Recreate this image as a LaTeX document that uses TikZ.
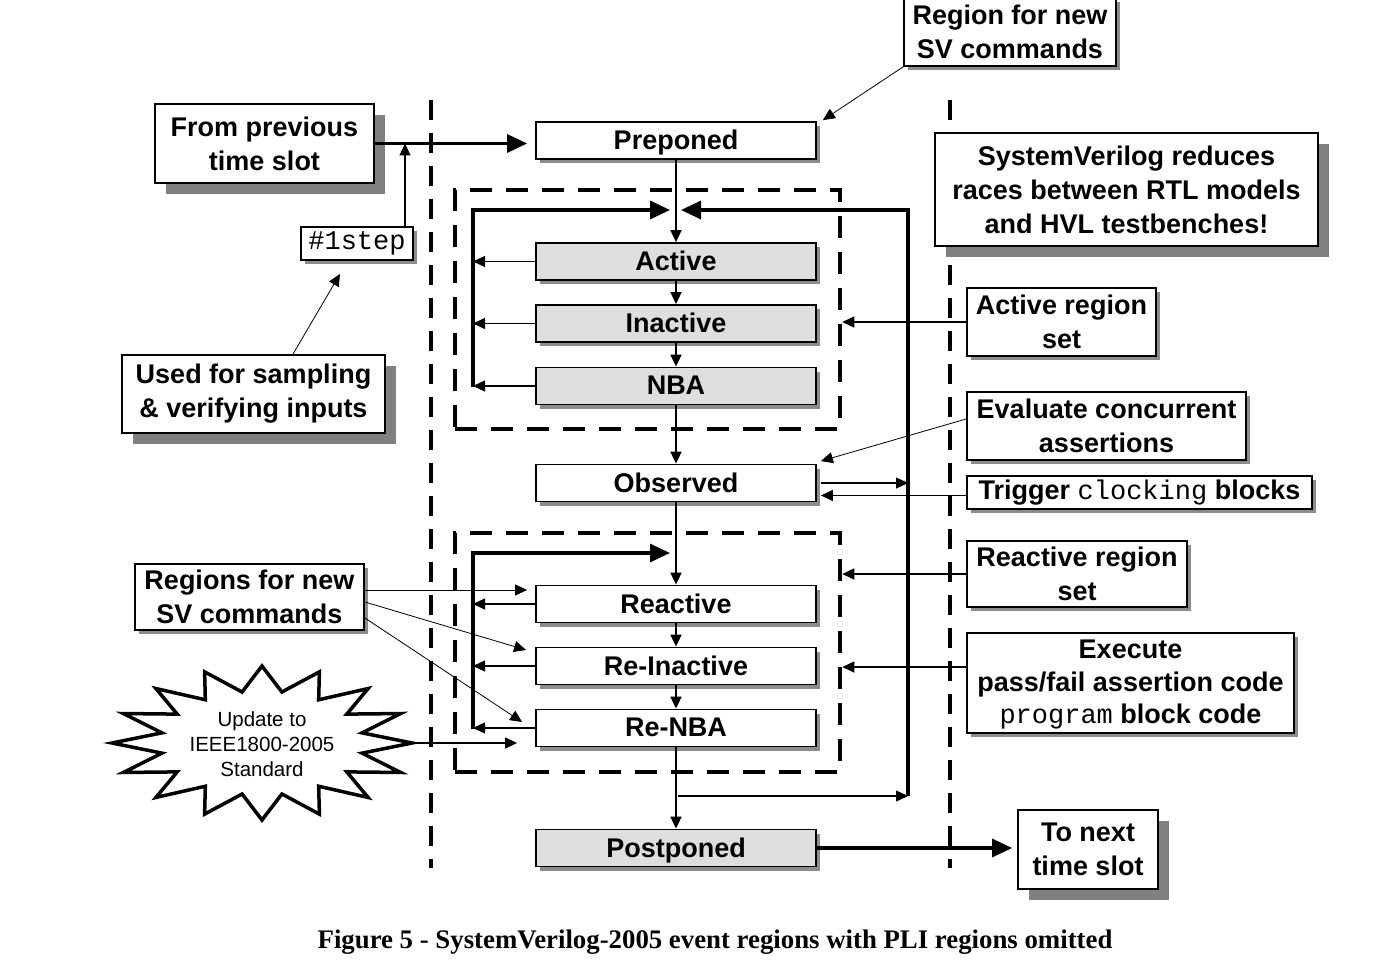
\documentclass[tikz,border=0pt]{standalone}
\usepackage{fontspec}
\setmainfont{Liberation Sans}
\setmonofont{Liberation Mono}
\newfontfamily\capfont{Liberation Serif}
\usetikzlibrary{arrows.meta,shadows}
\begin{document}
\begin{tikzpicture}[x=1pt,y=-1pt,
  stage/.style={draw, line width=1.8pt, fill=white, minimum width=280pt, minimum height=37pt, inner sep=0pt,
    font=\bfseries\fontsize{27}{34}\selectfont, text depth=1pt,
    drop shadow={shadow xshift=4pt,shadow yshift=-4pt,fill=black!45,opacity=1}},
  gstage/.style={stage, fill=black!13},
  notebase/.style={draw, line width=1.8pt, fill=white, inner sep=0pt, align=center,
    font=\bfseries\fontsize{27}{34}\selectfont},
  note/.style={notebase, drop shadow={shadow xshift=4pt,shadow yshift=-4pt,fill=black!45,opacity=1}},
  bignote/.style={notebase, drop shadow={shadow xshift=11pt,shadow yshift=-11pt,fill=black!50,opacity=1}},
  thinarr/.style={line width=1.3pt, -{Triangle[length=12pt,width=11pt]}},
  midarr/.style={line width=1.8pt, -{Triangle[length=12pt,width=11pt]}},
  hairarr/.style={line width=0.8pt, -{Triangle[length=12pt,width=11pt]}},
  thickarr/.style={line width=3.3pt, line join=miter, -{Triangle[length=20pt,width=18pt]}},
  vdash/.style={line width=4pt, dash pattern=on 20pt off 13pt},
  boxdash/.style={draw, line width=4.5pt, dash pattern=on 22pt off 14pt, minimum width=385pt, minimum height=239pt, inner sep=0pt}
]
\useasboundingbox (0,0) rectangle (1400,960);

% time slot boundaries
\draw[vdash] (431,100) -- (431,868);
\draw[vdash] (950,100) -- (950,868);

% region sets
\node[boxdash] (ub) at (647.5,309.5) {};
\node[boxdash] (lb) at (647.5,652.5) {};

% loop coordinates
\coordinate (ulb) at (473,387);
\coordinate (ult) at (473,210);
\coordinate (ultip) at (670,210);
\coordinate (rlb) at (908,796);
\coordinate (rlt) at (908,210);
\coordinate (rltip) at (681,210);
\coordinate (llb) at (473,729);
\coordinate (llt) at (473,553);
\coordinate (lltip) at (670,553);
\coordinate (brs) at (678,796);

\draw[thickarr] (ulb) -- (ult) -- (ultip);
\draw[thickarr] (rlb) -- (rlt) -- (rltip);
\draw[thickarr] (llb) -- (llt) -- (lltip);

% starburst
\draw[line width=3.5pt, fill=white, line join=miter]
  plot[samples at={0,...,31}, variable=\k]
  ({262+(126+24*cos(180*\k))*cos(11.25*\k)}, {743-(64.5+12.5*cos(180*\k))*sin(11.25*\k)}) -- cycle;
\node[font=\fontsize{20.5}{25}\selectfont, align=center] (star) at (262,744) {Update to\\IEEE1800-2005\\Standard};
\coordinate (startip) at (410,743);

% central stages
\node[stage]  (pre)     at (676,140.5) {Preponed};
\node[gstage] (act)     at (676,261.5) {Active};
\node[gstage] (inact)   at (676,323.5) {Inactive};
\node[gstage] (nba)     at (676,386)   {NBA};
\node[stage]  (obs)     at (676,483)   {Observed};
\node[stage]  (react)   at (676,604)   {Reactive};
\node[stage]  (reinact) at (676,666)   {Re-Inactive};
\node[stage]  (renba)   at (676,728)   {Re-NBA};
\node[gstage] (post)    at (676,848)   {Postponed};

% annotation boxes
\node[bignote, minimum width=219pt, minimum height=79pt] (from) at (264.5,143.5) {From previous\\time slot};
\node[note, font=\ttfamily\fontsize{27}{34}\selectfont, minimum width=112pt, minimum height=33pt] (step) at (357,243.5) {\#1step};
\node[bignote, minimum width=263pt, minimum height=78pt] (used) at (253.5,394) {Used for sampling\\\& verifying inputs};
\node[note, minimum width=212pt, minimum height=68pt] (regtop) at (1010,32) {Region for new\\SV commands};
\node[bignote, minimum width=383pt, minimum height=113pt] (sysv) at (1126.5,189.5) {SystemVerilog reduces\\races between RTL models\\and HVL testbenches!};
\node[note, minimum width=189pt, minimum height=68pt] (actset) at (1061.5,322) {Active region\\set};
\node[note, minimum width=279pt, minimum height=68pt] (eval) at (1106.5,426) {Evaluate concurrent\\assertions};
\node[note, minimum width=345pt, minimum height=33pt] (trig) at (1139.5,492.5) {Trigger {\mdseries\ttfamily clocking} blocks};
\node[note, minimum width=220pt, minimum height=66pt] (reactset) at (1077,574) {Reactive region\\set};
\node[note, minimum width=327pt, minimum height=100pt, font=\bfseries\fontsize{27}{32.5}\selectfont, text depth=2pt] (exec) at (1130.5,683) {Execute\\pass/fail assertion code\\{\mdseries\ttfamily program} block code};
\node[bignote, minimum width=140pt, minimum height=79pt] (tonext) at (1088,849.5) {To next\\time slot};
\node[note, minimum width=229pt, minimum height=66pt] (regleft) at (249.5,597) {Regions for new\\SV commands};

% main flow
\draw[midarr] (pre.south) -- (act.north);
\draw[midarr] (act.south) -- (inact.north);
\draw[midarr] (inact.south) -- (nba.north);
\draw[midarr] (nba.south) -- (obs.north);
\draw[midarr] (obs.south) -- (react.north);
\draw[midarr] (react.south) -- (reinact.north);
\draw[midarr] (reinact.south) -- (renba.north);
\draw[midarr] (renba.south) -- (post.north);

% feedback into loops
\draw[thinarr] (act.west) -- (act.west -| ulb);
\draw[thinarr] (inact.west) -- (inact.west -| ulb);
\draw[thinarr] (nba.west) -- (nba.west -| ulb);
\draw[thinarr] (react.west) -- (react.west -| llb);
\draw[thinarr] (reinact.west) -- (reinact.west -| llb);
\draw[thinarr] (renba.west) -- (renba.west -| llb);
\draw[thinarr] ([xshift=4pt]obs.east) -- (obs.east -| rlb);
\draw[thinarr] (brs) -- (brs -| rlb);

% time slot in / out
\draw[thickarr] (from.east) -- ([xshift=-8pt]from.east -| pre.west);
\draw[thickarr] (post.east) -- ([xshift=-5pt]post.east -| tonext.west);
\draw[thinarr] ([xshift=48pt]step.north) -- ([xshift=48pt]step.north |- from.east);
\draw[hairarr] ([xshift=39.5pt]used.north) -- ([xshift=-17pt,yshift=-13pt]step.south);
\draw[hairarr] (regtop.south west) -- ([xshift=6pt,yshift=1pt]pre.north east);

% right annotations
\draw[thinarr] (actset.west) -- (actset.west -| ub.east);
\draw[hairarr] ([yshift=7pt]eval.west) -- ([xshift=4pt,yshift=2.5pt]obs.north east);
\draw[thinarr] ([yshift=-3pt]trig.west) -- ([yshift=-3pt,xshift=4pt]trig.west -| obs.east);
\draw[thinarr] (reactset.west) -- (reactset.west -| lb.east);
\draw[thinarr] ([yshift=16pt]exec.west) -- ([yshift=16pt]exec.west -| lb.east);

% left annotations
\draw[hairarr] ([yshift=7pt]regleft.east) -- ([xshift=-8pt,yshift=14pt]react.west);
\draw[hairarr] ([yshift=-5pt]regleft.east) -- ([xshift=-9pt,yshift=16pt]reinact.west);
\draw[hairarr] ([yshift=-21pt]regleft.east) -- ([xshift=-13pt,yshift=6pt]renba.west);
\draw[thinarr] (startip) -- ([xshift=-18pt,yshift=-15pt]renba.west);

% caption
\node[font=\capfont\bfseries\fontsize{26.8}{30}\selectfont] (cap) at (715,942) {Figure 5 - SystemVerilog-2005 event regions with PLI regions omitted};
\end{tikzpicture}
\end{document}
